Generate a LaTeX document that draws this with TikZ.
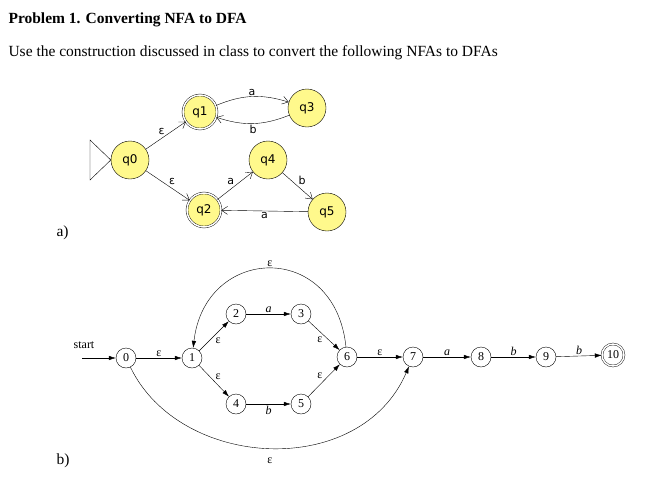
\documentclass[tikz,border=0pt]{standalone}
\usepackage{fontspec}
\setmainfont{Liberation Serif}
\newfontfamily\nodesans{DejaVu Sans}
\usetikzlibrary{arrows.meta}
\begin{document}
\begin{tikzpicture}[x=1pt,y=-1pt,
  ys/.style={circle,draw,fill=yellow!45,minimum size=38pt,inner sep=0pt,font=\nodesans\fontsize{12}{14}\selectfont},
  ysacc/.style={ys,double,double distance=1.5pt,minimum size=34pt},
  ta/.style={-{Straight Barb[length=6pt,width=8pt]},thin},
  tl/.style={font=\nodesans\fontsize{11}{13}\selectfont,inner sep=1pt},
  bs/.style={circle,draw,minimum size=20pt,inner sep=0pt,font=\fontsize{12}{14}\selectfont},
  ba/.style={-{Latex[length=7pt,width=4.5pt]},thin},
  bl/.style={font=\fontsize{12}{14}\selectfont,inner sep=1.5pt}]
\useasboundingbox (0,0) rectangle (659,498);
\node[anchor=west,font=\bfseries\fontsize{15.5}{18}\selectfont] (title) at (5,20) {Problem 1. Converting NFA to DFA};
\node[anchor=west,font=\fontsize{15.5}{18}\selectfont] (intro) at (5,53) {Use the construction discussed in class to convert the following NFAs to DFAs};
\node[anchor=west,font=\fontsize{15.5}{18}\selectfont] (la) at (53,233) {a)};
\node[anchor=west,font=\fontsize{15.5}{18}\selectfont] (lb) at (53,461) {b)};
% top
\node[ys] (q0) at (130,160) {q0};
\node[ysacc] (q1) at (200,112) {q1};
\node[ys] (q3) at (307,108) {q3};
\node[ys] (q4) at (268,160) {q4};
\node[ysacc] (q2) at (204,210) {q2};
\node[ys] (q5) at (327,212) {q5};
\draw (q0.west) -- (90,140) -- (90,180) -- cycle;
\draw[ta] (q0) -- node[tl,above left] {ε} (q1);
\draw[ta] (q0) -- node[tl,above right] {ε} (q2);
\draw[ta] (q1) to[bend left=20] node[tl,above] {a} (q3);
\draw[ta] (q3) to[bend left=20] node[tl,below] {b} (q1);
\draw[ta] (q2) -- node[tl,above left] {a} (q4);
\draw[ta] (q4) -- node[tl,above right] {b} (q5);
\draw[ta] (q5) -- node[tl,below] {a} (q2);
% bottom
\node[bs] (n0) at (126,358) {0};
\node[bs] (n1) at (192,358) {1};
\node[bs] (n2) at (236,314) {2};
\node[bs] (n3) at (301,314) {3};
\node[bs] (n4) at (236,404) {4};
\node[bs] (n5) at (301,404) {5};
\node[bs] (n6) at (347,357) {6};
\node[bs] (n7) at (413,357) {7};
\node[bs] (n8) at (481,357) {8};
\node[bs] (n9) at (546,357) {9};
\node[bs,double,double distance=1.5pt,minimum size=22pt] (n10) at (613,355) {10};
\node[bl] (start) at (84,345) {start};
\coordinate (s0) at (82,358);
\draw[ba] (s0) -- (n0);
\draw[ba] (n0) -- node[bl,above] {ε} (n1);
\draw[ba] (n1) -- node[bl,below right] {ε} (n2);
\draw[ba] (n1) -- node[bl,above right] {ε} (n4);
\draw[ba] (n2) -- node[bl,above] {\itshape a} (n3);
\draw[ba] (n4) -- node[bl,below] {\itshape b} (n5);
\draw[ba] (n3) -- node[bl,below left] {ε} (n6);
\draw[ba] (n5) -- node[bl,above left] {ε} (n6);
\draw[ba] (n6) .. controls (335,240) and (205,245) .. node[bl,above] {ε} (n1);
\draw[ba] (n0) .. controls (180,470) and (360,480) .. node[bl,below=8pt] {ε} (n7);
\draw[ba] (n6) -- node[bl,above] {ε} (n7);
\draw[ba] (n7) -- node[bl,above] {\itshape a} (n8);
\draw[ba] (n8) -- node[bl,above] {\itshape b} (n9);
\draw[ba] (n9) -- node[bl,above] {\itshape b} (n10);
\end{tikzpicture}
\end{document}
